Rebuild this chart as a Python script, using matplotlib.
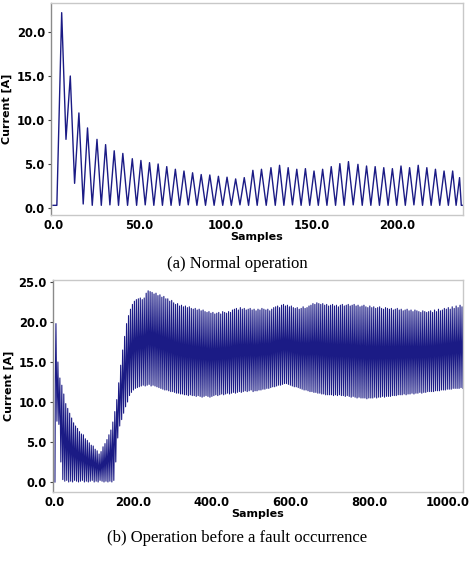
import numpy as np
import matplotlib
matplotlib.use("Agg")
import matplotlib.pyplot as plt
from matplotlib.ticker import FormatStrFormatter

# ---------------- data: (a) normal operation ----------------
a_start_x = [0.0, 2.2]
a_start_y = [0.3, 0.3]
a_peak_x = [5, 10, 15, 20, 25.5, 30.5, 35.5, 40.5, 46, 51, 56, 61, 66, 71, 76, 81,
            86, 91, 96, 101, 106, 111, 116, 121, 126.5, 131.5, 136.5, 141.5, 146.5,
            151.5, 156.5, 161.5, 166.5, 171.5, 177, 182, 187, 192, 197, 202, 207,
            212, 217, 222, 227, 232, 236]
a_peak_y = [22.2, 15.0, 10.8, 9.1, 7.8, 7.2, 6.5, 6.2, 5.6, 5.4, 5.15, 5.0, 4.7,
            4.4, 4.2, 4.0, 3.8, 3.75, 3.6, 3.5, 3.3,
            3.45, 4.28, 4.4, 4.58, 4.85, 4.58, 4.4, 4.47, 4.2, 4.4, 4.7, 5.04, 5.27,
            4.96, 4.77, 4.7, 4.58, 4.47, 4.77, 4.58, 4.85, 4.58, 4.4, 4.2, 4.2, 3.45]
a_trough_y = [7.8, 2.8, 0.45, 0.3, 0.3, 0.35, 0.3, 0.3, 0.3, 0.35, 0.3, 0.3, 0.3,
              0.3, 0.35, 0.3, 0.3, 0.3, 0.3, 0.3, 0.35, 0.3, 0.3, 0.3, 0.3, 0.3,
              0.35, 0.3, 0.3, 0.3, 0.3, 0.3, 0.3, 0.35, 0.3, 0.3, 0.3, 0.3, 0.3,
              0.3, 0.35, 0.3, 0.3, 0.3, 0.3, 0.3]
a_end_x = [237.0, 238.0]
a_end_y = [0.3, 0.3]
a_xticks = [0.0, 50.0, 100.0, 150.0, 200.0]
a_yticks = [0.0, 5.0, 10.0, 15.0, 20.0]

# ---------------- data: (b) operation before a fault ----------------
b_start_x = [0.0, 1.0]
b_start_y = [0.0, 13.0]
b_cycle_len = 5.0   # samples per cycle
b_peak_y = [
    19.8, 15.0, 13.0, 12.1, 11.0, 9.8, 9.2, 8.6, 8.0, 7.4,
    7.0, 6.7, 6.3, 6.0, 5.9, 5.4, 5.2, 4.9, 4.6, 4.5,
    4.1, 3.9, 3.5, 3.8, 4.4, 4.8, 5.3, 5.9, 6.5, 7.5,
    8.8, 10.3, 12.4, 14.6, 16.5, 18.2, 19.8, 20.8, 21.6, 22.2,
    22.6, 22.8, 22.9, 23.0, 22.8, 23.0, 23.6, 23.9, 23.8, 23.7,
    23.5, 23.6, 23.3, 23.4, 23.1, 23.2, 22.9, 22.9, 22.6, 22.7,
    22.4, 22.2, 22.3, 22.0, 22.1, 21.9, 22.0, 21.8, 21.9, 21.7,
    21.6, 21.7, 21.5, 21.6, 21.4, 21.5, 21.3, 21.2, 21.3, 21.1,
    21.2, 21.0, 21.1, 21.2, 21.0, 21.3, 21.2, 21.1, 21.3, 21.2,
    21.5, 21.6, 21.7, 21.5, 21.8, 21.6, 21.7, 21.5, 21.6, 21.7,
    21.5, 21.6, 21.4, 21.6, 21.5, 21.7, 21.6, 21.5, 21.6, 21.4,
    21.6, 21.8, 21.9, 22.0, 21.8, 22.1, 22.2, 22.0, 22.1, 21.9,
    22.0, 21.8, 21.7, 21.8, 21.6, 21.7, 21.9, 21.7, 21.8, 22.0,
    22.1, 22.3, 22.2, 22.4, 22.3, 22.2, 22.3, 22.1, 22.2, 22.0,
    22.1, 22.2, 22.0, 22.1, 21.9, 22.1, 22.2, 22.0, 22.1, 22.2,
    22.0, 22.1, 22.2, 22.0, 22.1, 21.9, 22.0, 22.1, 21.9, 21.8,
    22.0, 21.8, 21.9, 21.7, 21.8, 21.9, 21.7, 21.6, 21.8, 21.7,
    21.6, 21.7, 21.5, 21.6, 21.7, 21.5, 21.6, 21.4, 21.5, 21.6,
    21.4, 21.5, 21.3, 21.5, 21.4, 21.3, 21.2, 21.4, 21.3, 21.2,
    21.3, 21.4, 21.2, 21.5, 21.3, 21.6, 21.4, 21.5, 21.7, 21.6,
    21.8, 21.6, 21.9, 21.7, 22.0, 21.8, 22.1, 21.9]
b_trough_y = [
    7.6, 7.2, 2.5, 0.3, 0.1, 0.2, 0.0, 0.1, 0.0, 0.2,
    0.1, 0.0, 0.1, 0.2, 0.0, 0.1, 0.0, 0.1, 0.2, 0.0,
    0.1, 0.0, 0.2, 0.1, 0.0, 0.1, 0.0, 0.1, 0.0, 0.2,
    2.5, 5.5, 7.0, 7.8, 8.6, 9.4, 10.0, 10.8, 11.2, 11.5,
    11.7, 11.8, 11.9, 12.0, 12.1, 12.0, 12.1, 12.2, 12.0, 12.1,
    12.0, 11.9, 11.8, 11.7, 11.6, 11.5, 11.5, 11.4, 11.3, 11.3,
    11.2, 11.1, 11.1, 11.0, 11.0, 10.9, 10.9, 10.8, 10.9, 10.8,
    10.8, 10.7, 10.8, 10.7, 10.6, 10.7, 10.8, 10.7, 10.6, 10.7,
    10.8, 10.9, 10.8, 10.9, 11.0, 10.9, 11.0, 11.1, 11.0, 11.1,
    11.2, 11.1, 11.2, 11.3, 11.2, 11.3, 11.4, 11.3, 11.4, 11.5,
    11.3, 11.4, 11.4, 11.5, 11.5, 11.6, 11.6, 11.7, 11.7, 11.8,
    11.9, 11.9, 12.0, 12.1, 12.1, 12.2, 12.3, 12.3, 12.2, 12.1,
    12.0, 11.9, 11.9, 11.8, 11.7, 11.6, 11.5, 11.5, 11.4, 11.3,
    11.3, 11.2, 11.2, 11.1, 11.1, 11.0, 11.0, 10.9, 10.9, 10.9,
    10.9, 10.8, 10.9, 10.8, 10.9, 10.8, 10.8, 10.7, 10.8, 10.7,
    10.6, 10.7, 10.6, 10.5, 10.6, 10.5, 10.5, 10.5, 10.4, 10.5,
    10.5, 10.5, 10.6, 10.5, 10.6, 10.6, 10.7, 10.6, 10.7, 10.7,
    10.7, 10.8, 10.8, 10.8, 10.9, 10.9, 10.9, 11.0, 10.9, 11.0,
    11.0, 11.1, 11.0, 11.1, 11.1, 11.2, 11.1, 11.2, 11.2, 11.3,
    11.3, 11.3, 11.3, 11.4, 11.4, 11.4, 11.5, 11.5, 11.5, 11.6,
    11.6, 11.6, 11.7, 11.7, 11.7, 11.7, 11.8, 11.7]
b_xticks = [0.0, 200.0, 400.0, 600.0, 800.0, 1000.0]
b_yticks = [0.0, 5.0, 10.0, 15.0, 20.0, 25.0]

x_label = "Samples"
y_label = "Current [A]"
caption_a = "(a) Normal operation"
caption_b = "(b) Operation before a fault occurrence"

# ---------------- build polylines ----------------
def zigzag(px, py, ty):
    xs, ys = [], []
    for i in range(len(px)):
        xs.append(px[i]); ys.append(py[i])
        if i < len(ty):
            xs.append((px[i] + px[i + 1]) / 2.0); ys.append(ty[i])
    return xs, ys

ax_x, ax_y = zigzag(a_peak_x, a_peak_y, a_trough_y)
ax_x = a_start_x + ax_x + a_end_x
ax_y = a_start_y + ax_y + a_end_y

b_peak_x = [b_cycle_len * k + b_cycle_len / 2.0 for k in range(len(b_peak_y))]
bx_x, bx_y = [], []
for k in range(len(b_peak_y)):
    bx_x.append(b_peak_x[k]); bx_y.append(b_peak_y[k])
    bx_x.append(b_peak_x[k] + b_cycle_len / 2.0); bx_y.append(b_trough_y[k])
bx_x = b_start_x + bx_x
bx_y = b_start_y + bx_y

# ---------------- figure ----------------
W, H = 474, 564
fig = plt.figure(figsize=(W / 100, H / 100), dpi=100)
line_color = "#1b1b85"

def style(ax):
    for s in ["top", "right", "bottom"]:
        ax.spines[s].set_color("#c8c8c8")
        ax.spines[s].set_linewidth(1.0)
    ax.spines["left"].set_color("#8a8a8a")
    ax.spines["left"].set_linewidth(1.0)
    ax.tick_params(axis="x", length=0, pad=3)
    ax.tick_params(axis="y", length=2.5, width=0.8, color="#444444", pad=2)
    for lab in ax.get_xticklabels() + ax.get_yticklabels():
        lab.set_fontweight("bold")
        lab.set_fontsize(8.3)
    ax.xaxis.set_major_formatter(FormatStrFormatter("%.1f"))
    ax.yaxis.set_major_formatter(FormatStrFormatter("%.1f"))
    ax.set_xlabel(x_label, fontsize=8, fontweight="bold", labelpad=0)
    ax.set_ylabel(y_label, fontsize=8, fontweight="bold", labelpad=3)

# top axes
ax1 = fig.add_axes([51 / W, 1 - 215 / H, (463 - 51) / W, (215 - 3) / H])
ax1.plot(ax_x, ax_y, color=line_color, lw=1.0)
ax1.set_xlim(-1.2, 238)
ax1.set_ylim(-0.8, 23.3)
ax1.set_xticks(a_xticks)
ax1.set_yticks(a_yticks)
style(ax1)

# bottom axes
ax2 = fig.add_axes([53 / W, 1 - 492 / H, (463 - 53) / W, (492 - 280) / H])
ax2.plot(bx_x, bx_y, color=line_color, lw=0.8)
ax2.set_xlim(-5, 1040)
ax2.set_ylim(-1.25, 25.25)
ax2.set_xticks(b_xticks)
ax2.set_yticks(b_yticks)
style(ax2)

fig.text(0.5, 1 - 264 / H, caption_a, ha="center", va="center",
         fontsize=12, family="Liberation Serif")
fig.text(0.5, 1 - 538 / H, caption_b, ha="center", va="center",
         fontsize=12, family="Liberation Serif")

fig.savefig("out.png", dpi=100)
